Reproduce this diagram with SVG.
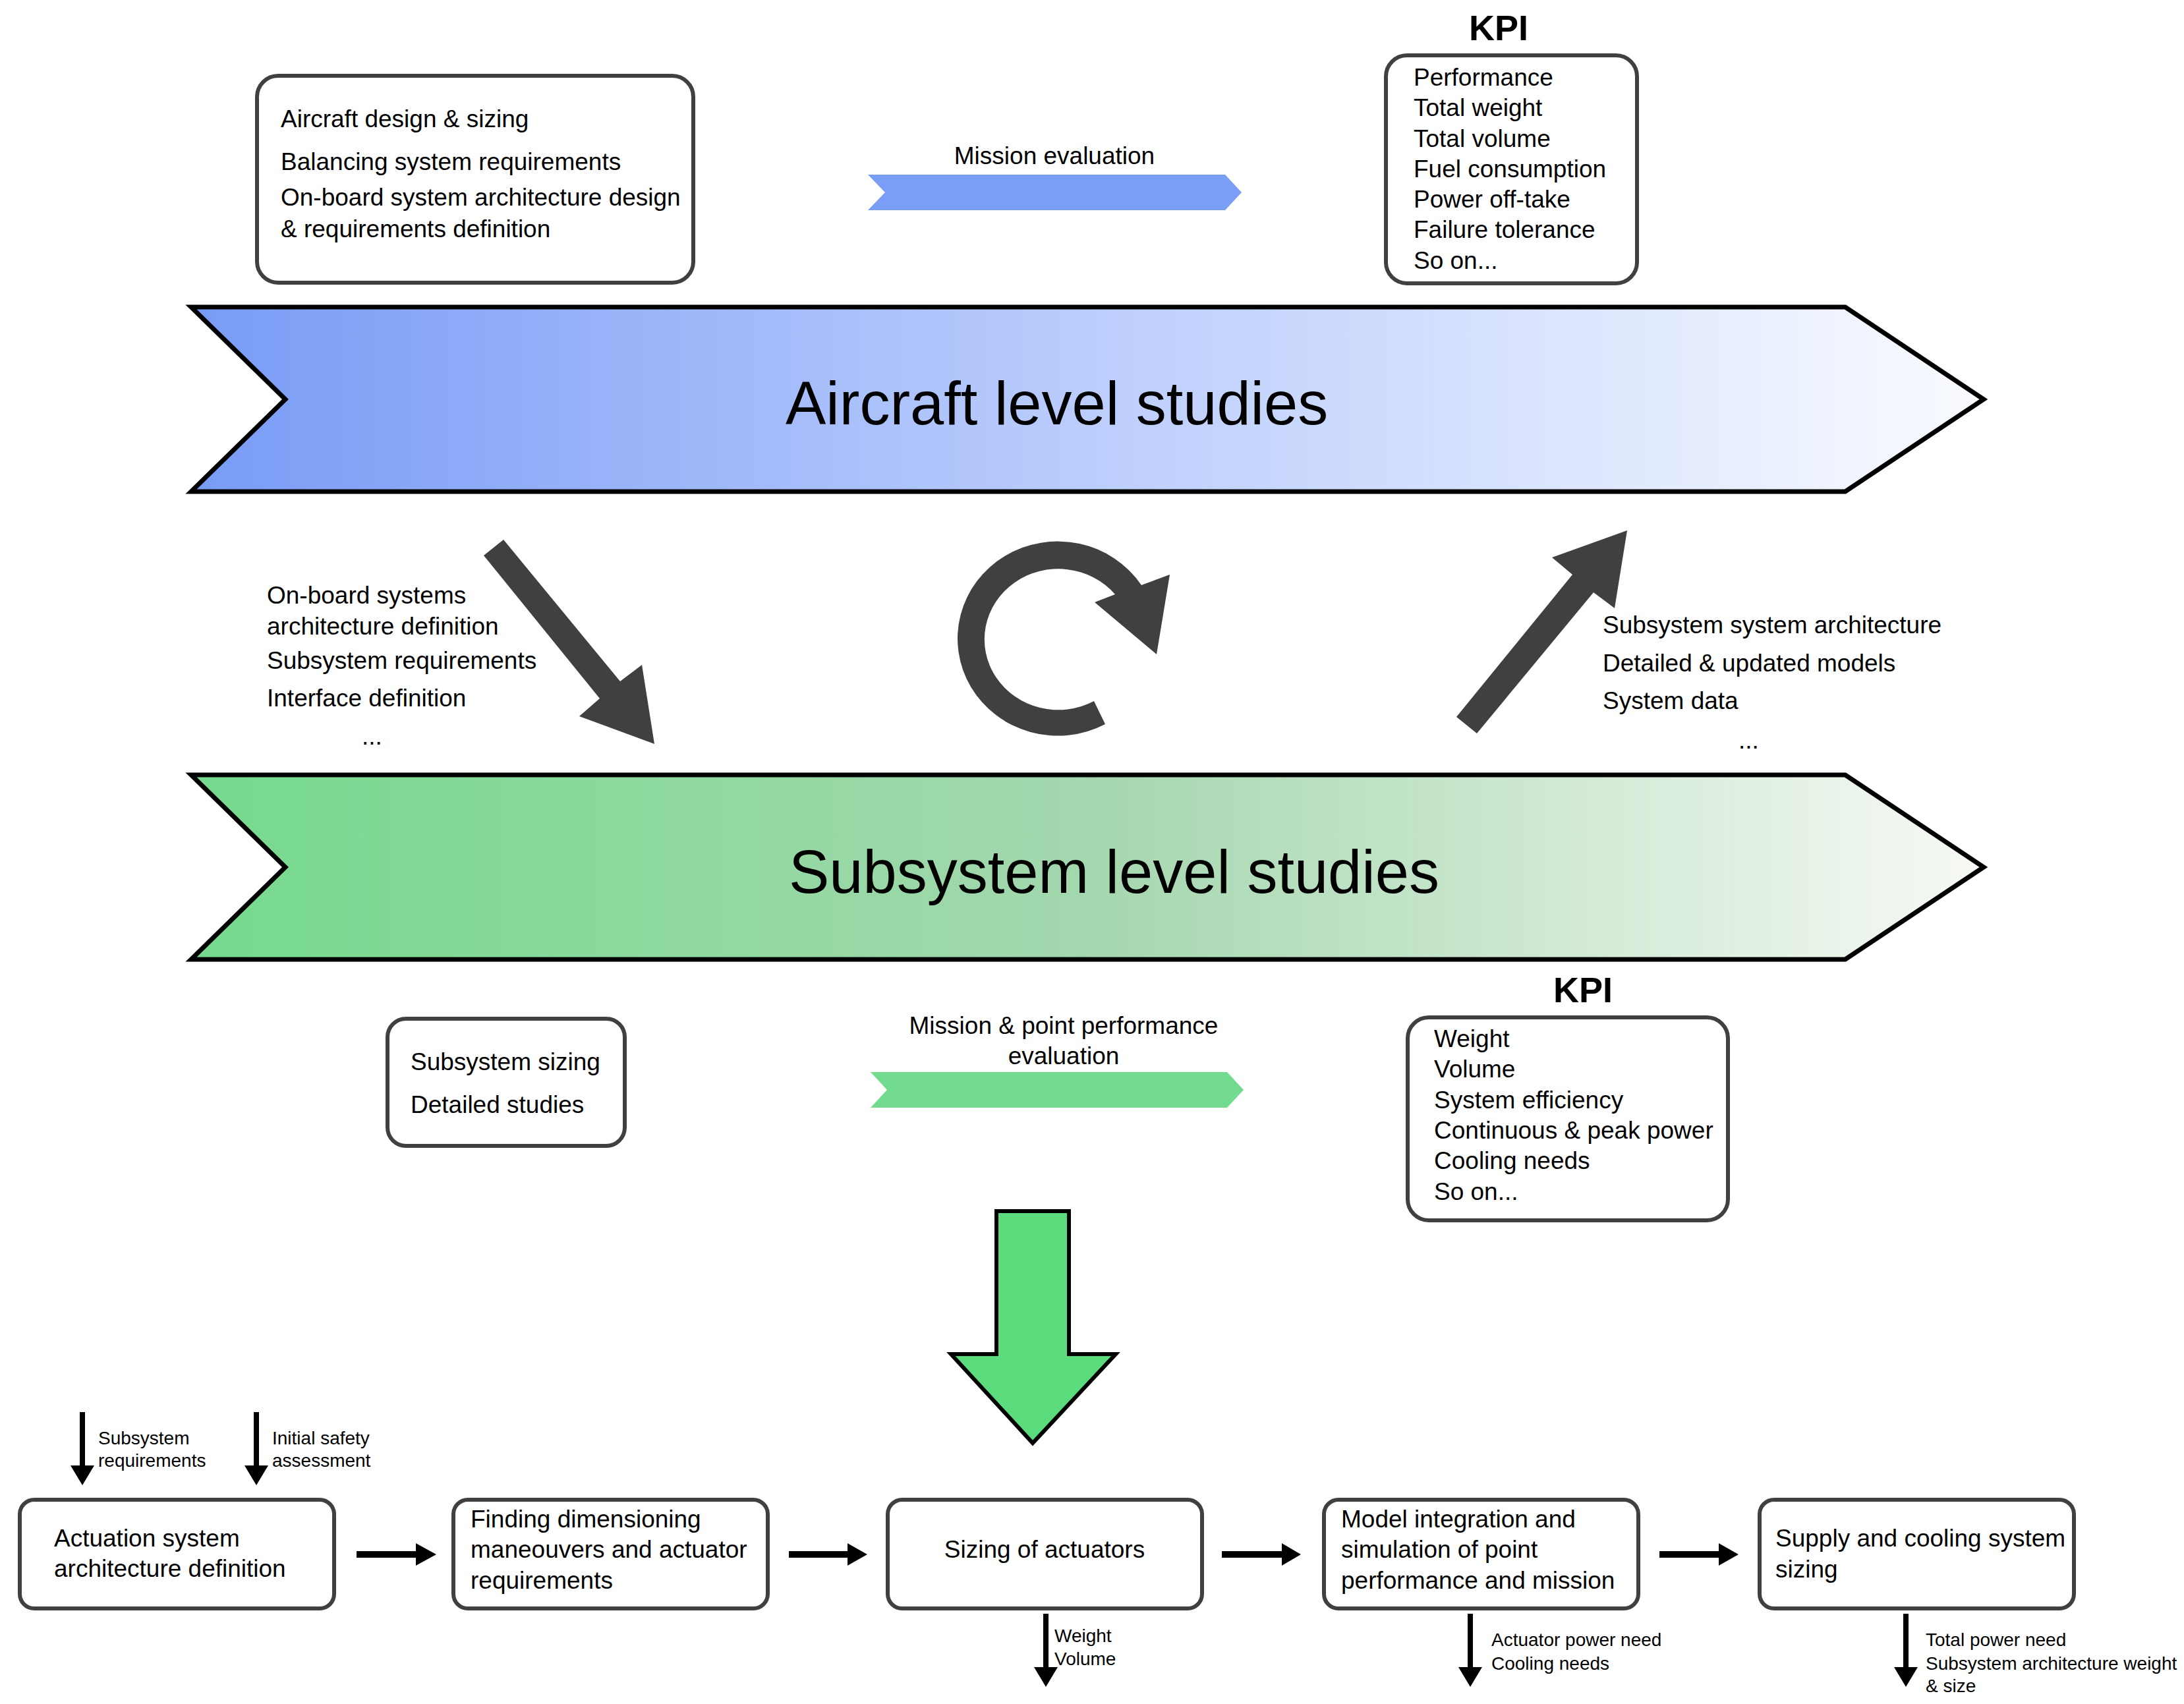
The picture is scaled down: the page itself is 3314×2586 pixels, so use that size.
<svg xmlns="http://www.w3.org/2000/svg" width="3314" height="2586" viewBox="0 0 3314 2586">
<defs>
<linearGradient id="gBlue" x1="290" y1="0" x2="3010" y2="0" gradientUnits="userSpaceOnUse">
<stop offset="0" stop-color="#789BF5"/>
<stop offset="0.5" stop-color="#BBCDFC"/>
<stop offset="1" stop-color="#F9FBFF"/>
</linearGradient>
<linearGradient id="gGreen" x1="290" y1="0" x2="3010" y2="0" gradientUnits="userSpaceOnUse">
<stop offset="0" stop-color="#75DA8D"/>
<stop offset="0.5" stop-color="#A4D7AE"/>
<stop offset="1" stop-color="#F7F9F5"/>
</linearGradient>
</defs>
<style>
text{font-family:"Liberation Sans",Arial,Helvetica,sans-serif;fill:#000}
.t{font-size:37px}
.s{font-size:28px}
.big{font-size:92px}
.kpi{font-size:54px;font-weight:bold}
.box{fill:#fff;stroke:#404040;stroke-width:6}
.chev{stroke:#000;stroke-width:7;stroke-linejoin:miter}
.dark{fill:#404040}
.blk{fill:#000}
</style>
<rect width="3314" height="2586" fill="#fff"/>

<g id="aircraft-level">
<polygon class="chev" fill="url(#gBlue)" points="290,466 2800,466 3010,606 2800,746 290,746 433,606"/>
<text class="big" x="1192" y="644">Aircraft level studies</text>
</g>

<g id="subsystem-level">
<polygon class="chev" fill="url(#gGreen)" points="290,1176 2800,1176 3010,1316 2800,1456 290,1456 433,1316"/>
<text class="big" x="1197" y="1355">Subsystem level studies</text>
</g>

<g id="aircraft-tasks">
<rect class="box" x="390" y="115" width="662" height="314" rx="32"/>
<text class="t" x="426" y="193">Aircraft design &amp; sizing</text>
<text class="t" x="426" y="258">Balancing system requirements</text>
<text class="t" x="426" y="312">On-board system architecture design</text>
<text class="t" x="426" y="360">&amp; requirements definition</text>
</g>

<g id="mission-evaluation">
<polygon fill="#7A9DF5" points="1317,265 1859,265 1884,292 1859,319 1317,319 1343,292"/>
<text class="t" x="1600" y="249" text-anchor="middle">Mission evaluation</text>
</g>

<g id="kpi-aircraft">
<text class="kpi" x="2274" y="61" text-anchor="middle">KPI</text>
<rect class="box" x="2103" y="84" width="381" height="346" rx="32"/>
<text class="t" x="2145" y="130">Performance</text>
<text class="t" x="2145" y="176">Total weight</text>
<text class="t" x="2145" y="223">Total volume</text>
<text class="t" x="2145" y="269">Fuel consumption</text>
<text class="t" x="2145" y="315">Power off-take</text>
<text class="t" x="2145" y="361">Failure tolerance</text>
<text class="t" x="2145" y="408">So on...</text>
</g>

<g id="downward-info">
<text class="t" x="405" y="916">On-board systems</text>
<text class="t" x="405" y="963">architecture definition</text>
<text class="t" x="405" y="1015">Subsystem requirements</text>
<text class="t" x="405" y="1072">Interface definition</text>
<text class="t" x="549" y="1130">...</text>
</g>

<g id="upward-info">
<text class="t" x="2432" y="961">Subsystem system architecture</text>
<text class="t" x="2432" y="1019">Detailed &amp; updated models</text>
<text class="t" x="2432" y="1076">System data</text>
<text class="t" x="2638" y="1136">...</text>
</g>

<g id="subsystem-tasks">
<rect class="box" x="588" y="1546" width="360" height="193" rx="28"/>
<text class="t" x="623" y="1624">Subsystem sizing</text>
<text class="t" x="623" y="1689">Detailed studies</text>
</g>

<g id="mission-point-evaluation">
<polygon fill="#72DB90" points="1321,1627 1862,1627 1887,1654 1862,1681 1321,1681 1346,1654"/>
<text class="t" x="1614" y="1569" text-anchor="middle">Mission &amp; point performance</text>
<text class="t" x="1614" y="1615" text-anchor="middle">evaluation</text>
</g>

<g id="kpi-subsystem">
<text class="kpi" x="2402" y="1521" text-anchor="middle">KPI</text>
<rect class="box" x="2136" y="1544" width="486" height="308" rx="32"/>
<text class="t" x="2176" y="1589">Weight</text>
<text class="t" x="2176" y="1635">Volume</text>
<text class="t" x="2176" y="1682">System efficiency</text>
<text class="t" x="2176" y="1728">Continuous &amp; peak power</text>
<text class="t" x="2176" y="1774">Cooling needs</text>
<text class="t" x="2176" y="1821">So on...</text>
</g>

<g id="step1">
<rect class="box" x="30" y="2276" width="477" height="165" rx="22"/>
<text class="t" x="82" y="2347">Actuation system</text>
<text class="t" x="82" y="2393">architecture definition</text>
</g>
<g id="step2">
<rect class="box" x="688" y="2276" width="477" height="165" rx="22"/>
<text class="t" x="714" y="2318">Finding dimensioning</text>
<text class="t" x="714" y="2364">maneouvers and actuator</text>
<text class="t" x="714" y="2411">requirements</text>
</g>
<g id="step3">
<rect class="box" x="1347" y="2276" width="477" height="165" rx="22"/>
<text class="t" x="1585" y="2364" text-anchor="middle">Sizing of actuators</text>
</g>
<g id="step4">
<rect class="box" x="2009" y="2276" width="477" height="165" rx="22"/>
<text class="t" x="2035" y="2318">Model integration and</text>
<text class="t" x="2035" y="2364">simulation of point</text>
<text class="t" x="2035" y="2411">performance and mission</text>
</g>
<g id="step5">
<rect class="box" x="2670" y="2276" width="477" height="165" rx="22"/>
<text class="t" x="2694" y="2347">Supply and cooling system</text>
<text class="t" x="2694" y="2394">sizing</text>
</g>

<g id="io-labels">
<text class="s" x="149" y="2192">Subsystem</text>
<text class="s" x="149" y="2226">requirements</text>
<text class="s" x="413" y="2192">Initial safety</text>
<text class="s" x="413" y="2226">assessment</text>
<text class="s" x="1600" y="2492">Weight</text>
<text class="s" x="1600" y="2527">Volume</text>
<text class="s" x="2263" y="2498">Actuator power need</text>
<text class="s" x="2263" y="2534">Cooling needs</text>
<text class="s" x="2922" y="2498">Total power need</text>
<text class="s" x="2922" y="2534">Subsystem architecture weight</text>
<text class="s" x="2922" y="2568">&amp; size</text>
</g>

<g id="connectors">
<polygon class="dark" points="734,843 764,819 941,1034 974,1009 993,1129 879,1087 910,1060"/>
<polygon class="dark" points="2210,1088 2386,872 2355,846 2469,805 2450,923 2418,899 2241,1113"/>
<path class="dark" d="M1677,1099 A152,147.5 0 1 1 1732,888 L1775,872 L1755,993 L1661,914 L1692,902 A112,107 0 1 0 1660,1064 Z"/>
<polygon fill="#5BDC7C" stroke="#000" stroke-width="6" stroke-linejoin="miter" points="1512,1838 1622,1838 1622,2055 1693,2055 1567,2190 1443,2055 1512,2055"/>
<polygon class="blk" points="541,2354 631,2354 631,2342 662,2359 631,2376 631,2364 541,2364"/>
<polygon class="blk" points="1197,2354 1286,2354 1286,2342 1316,2359 1286,2376 1286,2364 1197,2364"/>
<polygon class="blk" points="1854,2354 1945,2354 1945,2342 1974,2359 1945,2376 1945,2364 1854,2364"/>
<polygon class="blk" points="2518,2354 2608,2354 2608,2342 2638,2359 2608,2376 2608,2364 2518,2364"/>
<polygon class="blk" points="121,2143 129,2143 129,2224 143,2224 125,2254 107,2224 121,2224"/>
<polygon class="blk" points="385,2143 393,2143 393,2224 407,2224 389,2254 371,2224 385,2224"/>
<polygon class="blk" points="1583,2449 1591,2449 1591,2530 1605,2530 1587,2560 1569,2530 1583,2530"/>
<polygon class="blk" points="2227,2449 2235,2449 2235,2530 2249,2530 2231,2560 2213,2530 2227,2530"/>
<polygon class="blk" points="2888,2449 2896,2449 2896,2530 2910,2530 2892,2560 2874,2530 2888,2530"/>
</g>
</svg>
